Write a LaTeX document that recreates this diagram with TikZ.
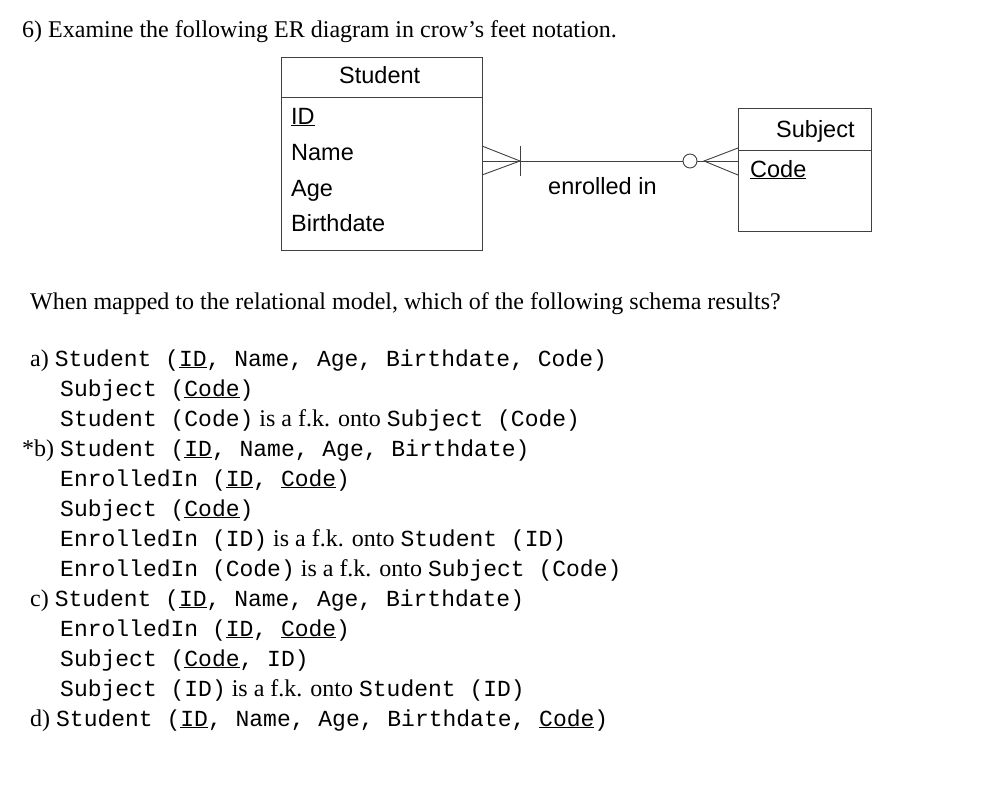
\documentclass[tikz,border=0pt]{standalone}
\usepackage{fontspec}
\setmainfont{Liberation Serif}
\setmonofont{Liberation Mono}
\newfontfamily\arial{Liberation Sans}
\begin{document}
\begin{tikzpicture}[x=1pt,y=-1pt,
  tx/.style={anchor=base west,inner sep=0pt,font=\fontsize{24}{26}\selectfont},
  er/.style={anchor=base west,inner sep=0pt,font=\arial\fontsize{23.5}{26}\selectfont},
  ln/.style={line width=0.9pt,draw=black!75}]
\useasboundingbox (0,0) rectangle (996,808);
\newcommand\cd[1]{{\ttfamily\fontsize{23}{24}\selectfont #1}}
\node[tx] (q) at (22,38) {6) Examine the following ER diagram in crow’s feet notation.};
% Student entity
\draw[ln] (281,57) rectangle (482,250);
\draw[ln] (281,97) -- (482,97);
\node[er] (st) at (339,84) {Student};
\node[er] (a1) at (291,124) {\underline{ID}};
\node[er] (a2) at (291,160) {Name};
\node[er] (a3) at (291,196) {Age};
\node[er] (a4) at (291,231) {Birthdate};
% Subject entity
\draw[ln] (738,108) rectangle (871,231);
\draw[ln] (738,150) -- (871,150);
\node[er] (sb) at (776,137) {Subject};
\node[er] (sc) at (750,177) {\underline{Code}};
% relationship
\coordinate (L) at (482,161);
\coordinate (R) at (738,161);
\node[circle,ln,minimum size=14pt,inner sep=0pt] (o) at (690,161) {};
\draw[ln] (L) -- (o.west);
\draw[ln] (o.east) -- (R);
\draw[ln] (482,146) -- (520,161) -- (482,175);
\draw[ln] (520,146) -- (520,176);
\draw[ln] (738,148) -- (704,161) -- (738,175);
\node[er] (rel) at (548,194) {enrolled in};
\node[tx] (q2) at (30,309) {When mapped to the relational model, which of the following schema results?};
% answers
\node[tx] (la) at (30,366) {a) \cd{Student (\underline{ID}, Name, Age, Birthdate, Code)}};
\node[tx] (l2) at (60,396) {\cd{Subject (\underline{Code})}};
\node[tx] (l3) at (60,426) {\cd{Student (Code)} is a f.k. onto \cd{Subject (Code)}};
\node[tx] (lb) at (22,456) {*b) \cd{Student (\underline{ID}, Name, Age, Birthdate)}};
\node[tx] (l5) at (60,486) {\cd{EnrolledIn (\underline{ID}, \underline{Code})}};
\node[tx] (l6) at (60,516) {\cd{Subject (\underline{Code})}};
\node[tx] (l7) at (60,546) {\cd{EnrolledIn (ID)} is a f.k. onto \cd{Student (ID)}};
\node[tx] (l8) at (60,576) {\cd{EnrolledIn (Code)} is a f.k. onto \cd{Subject (Code)}};
\node[tx] (lc) at (30,606) {c) \cd{Student (\underline{ID}, Name, Age, Birthdate)}};
\node[tx] (l10) at (60,636) {\cd{EnrolledIn (\underline{ID}, \underline{Code})}};
\node[tx] (l11) at (60,666) {\cd{Subject (\underline{Code}, ID)}};
\node[tx] (l12) at (60,696) {\cd{Subject (ID)} is a f.k. onto \cd{Student (ID)}};
\node[tx] (ld) at (30,726) {d) \cd{Student (\underline{ID}, Name, Age, Birthdate, \underline{Code})}};
\end{tikzpicture}
\end{document}
